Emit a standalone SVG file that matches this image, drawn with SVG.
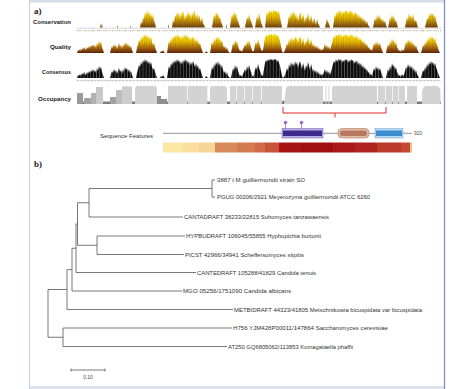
<svg xmlns="http://www.w3.org/2000/svg" width="474" height="389" viewBox="0 0 474 389">
<style>
.lbl{font-family:"Liberation Sans",Arial,sans-serif;font-size:5.5px;font-weight:bold;fill:#222;text-anchor:end}
.leaf{font-family:"Liberation Sans",Arial,sans-serif;font-size:6.1px;fill:#333}
.pan{font-family:"Liberation Serif","Times New Roman",serif;font-size:9px;font-weight:bold;fill:#222}
.br{stroke:#555;stroke-width:0.8;fill:none}
.occ{fill:#d3d3d3}
.occd{fill:#9a9a9a}
</style>
<defs>
<linearGradient id="gc" gradientUnits="userSpaceOnUse" x1="0" y1="9.5" x2="0" y2="27.5">
<stop offset="0" stop-color="#ffe600"/><stop offset="0.45" stop-color="#e0b400"/><stop offset="0.8" stop-color="#9a6a10"/><stop offset="1" stop-color="#6a3a08"/>
</linearGradient>
<linearGradient id="gq" gradientUnits="userSpaceOnUse" x1="0" y1="34" x2="0" y2="53">
<stop offset="0" stop-color="#ffe800"/><stop offset="0.4" stop-color="#e8c000"/><stop offset="0.75" stop-color="#a06010"/><stop offset="1" stop-color="#5a2008"/>
</linearGradient>
<pattern id="stripes" patternUnits="userSpaceOnUse" width="2.4" height="10">
<rect x="0" y="0" width="0.6" height="10" fill="#7a4a00" fill-opacity="0.35"/>
</pattern>
<pattern id="wstripes" patternUnits="userSpaceOnUse" width="3.1" height="10">
<rect x="0" y="0" width="0.5" height="10" fill="#ffffff" fill-opacity="0.45"/>
</pattern>
<path id="qpath" d="M77,53 L78,50 L79,51 L80,49 L81,51 L82,48 L83,50 L84,47 L85,49 L86,50 L87,47 L88,49 L89,46 L90,48 L91,45 L92,47 L93,44 L94,47 L95,45 L96,48 L97,43 L98,46 L99,41 L100,44 L101,42 L102,47 L103,50 L104,53 H110 L111,49 L112,46 L113,48 L114,44 L115,47 L116,45 L117,49 L118,46 L119,43 L120,47 L121,45 L122,49 L123,44 L124,47 L125,42 L126,45 L127,43 L128,47 L129,44 L130,48 L131,46 L132,50 L133,53 H136 L137,48 L138,44 L139,40 L140,42 L141,37 L142,40 L143,35 L144,38 L145,34 L146,37 L147,35 L148,39 L149,36 L150,40 L151,37 L152,42 L153,45 L154,43 L155,47 L156,50 L157,53 H160 L161,51 L162,52 L163,50 L164,52 L165,53 H167 L168,46 L169,41 L170,44 L171,38 L172,41 L173,36 L174,39 L175,35 L176,38 L177,34 L178,37 L179,35 L180,39 L181,36 L182,40 L183,35 L184,38 L185,34 L186,37 L187,35 L188,39 L189,36 L190,41 L191,37 L192,40 L193,36 L194,39 L195,42 L196,38 L197,43 L198,40 L199,45 L200,43 L201,47 L202,50 L203,53 H205 L206,51 L207,52 L208,53 H210 L211,47 L212,42 L213,45 L214,39 L215,42 L216,37 L217,40 L218,36 L219,41 L220,38 L221,43 L222,40 L223,45 L224,48 L225,46 L226,50 L227,47 L228,51 L229,52 L230,53 L231,53 L232,48 L233,43 L234,46 L235,40 L236,44 L237,41 L238,46 L239,49 L240,51 L241,50 L242,52 L243,49 L244,47 L245,44 L246,47 L247,41 L248,45 L249,40 L250,44 L251,47 L252,50 L253,52 L254,50 L255,45 L256,42 L257,45 L258,39 L259,43 L260,46 L261,49 L262,51 L263,50 L264,44 L265,38 L266,35 L267,37 L268,34 L269,36 L270,34 L271,35 L272,34 L273,36 L274,34 L275,35 L276,34 L277,37 L278,35 L279,38 L280,41 L281,46 L282,51 L283,53 L284,52 L285,50 L286,47 L287,43 L288,46 L289,39 L290,43 L291,37 L292,41 L293,38 L294,42 L295,36 L296,40 L297,37 L298,43 L299,39 L300,36 L301,40 L302,44 L303,38 L304,42 L305,46 L306,40 L307,43 L308,37 L309,41 L310,45 L311,39 L312,43 L313,47 L314,44 L315,48 L316,45 L317,49 L318,46 L319,50 L320,48 L321,51 L322,49 L323,50 L324,47 L325,44 L326,48 L327,45 L328,49 L329,46 L330,50 L331,47 L332,43 L333,39 L334,36 L335,38 L336,34 L337,37 L338,35 L339,34 L340,36 L341,34 L342,38 L343,35 L344,37 L345,34 L346,36 L347,34 L348,38 L349,35 L350,37 L351,34 L352,36 L353,35 L354,39 L355,36 L356,38 L357,35 L358,40 L359,37 L360,41 L361,38 L362,43 L363,40 L364,44 L365,42 L366,46 L367,44 L368,48 L369,47 L370,50 L371,49 L372,51 L373,47 L374,43 L375,46 L376,41 L377,45 L378,42 L379,46 L380,43 L381,47 L382,50 L383,53 H386 L387,48 L388,44 L389,47 L390,41 L391,45 L392,38 L393,42 L394,40 L395,45 L396,42 L397,47 L398,49 L399,51 L400,50 L401,52 L402,49 L403,51 L404,50 L405,46 L406,42 L407,44 L408,39 L409,43 L410,40 L411,44 L412,41 L413,46 L414,43 L415,48 L416,45 L417,49 L418,51 L419,53 H421 L422,49 L423,45 L424,47 L425,42 L426,45 L427,39 L428,42 L429,37 L430,40 L431,36 L432,39 L433,37 L434,41 L435,38 L436,42 L437,45 L438,48 L439,51 L440,53 H441 Z"/>
<path id="cpath" d="M77,27.5 H100 L100.5,23 L101,27.5 L102,23.5 L102.5,27.5 H117 L117.5,25 L118,27.5 H130 L130.5,25.5 L131,27.5 H140 L141,22 L142,24 L143,17 L144,20 L145,12 L146,16 L147,10 L148,15 L149,11 L150,17 L151,13 L152,19 L153,14 L154,21 L155,23 L156,27.5 H168 L168.5,24 L169,27.5 H172 L173,20 L174,23 L175,15 L176,18 L177,11 L178,16 L179,13 L180,19 L181,12 L182,17 L183,10 L184,15 L185,20 L186,14 L187,18 L188,11 L189,16 L190,13 L191,19 L192,12 L193,17 L194,10 L195,14 L196,18 L197,13 L198,20 L199,15 L200,19 L201,22 L202,17 L203,23 L204,25 L205,27.5 H212 L213,21 L214,15 L215,18 L216,12 L217,16 L218,13 L219,19 L220,17 L221,22 L222,24 L223,27.5 H226 L226.5,24 L227,27.5 H230 L231,20 L232,14 L233,18 L234,11 L235,16 L236,13 L237,19 L238,21 L239,24 L240,27.5 H245 L246,22 L247,17 L248,20 L249,14 L250,19 L251,21 L252,24 L253,27.5 H255 L256,21 L257,16 L258,20 L259,13 L260,18 L261,22 L262,25 L263,27.5 H265 L266,18 L267,12 L268,15 L269,10 L270,13 L271,10 L272,14 L273,10 L274,12 L275,10 L276,13 L277,10 L278,14 L279,11 L280,17 L281,22 L282,27.5 H287 L288,22 L289,16 L290,19 L291,12 L292,17 L293,11 L294,15 L295,13 L296,19 L297,14 L298,21 L299,17 L300,12 L301,16 L302,20 L303,14 L304,18 L305,23 L306,16 L307,20 L308,13 L309,18 L310,22 L311,15 L312,19 L313,24 L314,18 L315,21 L316,25 L317,19 L318,23 L319,25 L320,27.5 H325 L326,23 L327,19 L328,22 L329,24 L330,27.5 H333 L334,20 L335,14 L336,17 L337,11 L338,15 L339,10 L340,13 L341,10 L342,16 L343,11 L344,14 L345,10 L346,12 L347,10 L348,15 L349,11 L350,13 L351,10 L352,14 L353,12 L354,17 L355,11 L356,15 L357,13 L358,18 L359,14 L360,19 L361,16 L362,21 L363,17 L364,22 L365,19 L366,24 L367,21 L368,25 L369,26 L370,27.5 H373 L374,22 L375,18 L376,21 L377,15 L378,19 L379,14 L380,20 L381,17 L382,22 L383,19 L384,23 L385,21 L386,25 L387,27.5 L388,27.5 L389,23 L390,17 L391,21 L392,14 L393,19 L394,16 L395,22 L396,20 L397,24 L398,27.5 H405 L406,22 L407,17 L408,21 L409,13 L410,18 L411,15 L412,20 L413,14 L414,19 L415,22 L416,20 L417,24 L418,27.5 H425 L426,23 L427,18 L428,20 L429,14 L430,17 L431,12 L432,16 L433,13 L434,18 L435,15 L436,20 L437,24 L438,27.5 H441 Z"/>
</defs>

<!-- frame -->
<rect x="0" y="0" width="474" height="389" fill="#ffffff"/>
<rect x="29" y="0" width="416" height="2.5" fill="#d9dde8"/>
<rect x="29" y="386" width="416" height="3" fill="#dfe2ec"/>
<line x1="29.5" y1="0" x2="29.5" y2="389" stroke="#c5cbe0" stroke-width="1"/>
<line x1="444.5" y1="0" x2="444.5" y2="389" stroke="#7f8fc8" stroke-width="1.3"/>

<g id="panel-a">
<text class="pan" x="34" y="14">a)</text>
<text class="lbl" x="71" y="23.5" textLength="38" lengthAdjust="spacingAndGlyphs">Conservation</text>
<text class="lbl" x="71" y="48.5" textLength="21" lengthAdjust="spacingAndGlyphs">Quality</text>
<text class="lbl" x="71" y="73.5" textLength="29" lengthAdjust="spacingAndGlyphs">Consensus</text>
<text class="lbl" x="71" y="100.5" textLength="33" lengthAdjust="spacingAndGlyphs">Occupancy</text>

<g id="conservation">
<use href="#cpath" fill="url(#gc)"/>
<use href="#cpath" fill="url(#stripes)"/>
<line x1="77" y1="28.2" x2="441" y2="28.2" stroke="#b8b8b8" stroke-width="0.6"/>
<line x1="77" y1="30.6" x2="441" y2="30.6" stroke="#c9bfae" stroke-width="1.4" stroke-dasharray="1.2 0.6 2 0.8 0.8 1.2"/>
</g>

<g id="quality">
<use href="#qpath" fill="url(#gq)"/>
<use href="#qpath" fill="url(#stripes)"/>
</g>

<g id="consensus">
<use href="#qpath" transform="translate(0,25)" fill="#0e0e0e"/>
<use href="#qpath" transform="translate(0,25)" fill="url(#wstripes)"/>
<line x1="77" y1="80.6" x2="441" y2="80.6" stroke="#b5b5b5" stroke-width="1.2" stroke-dasharray="0.8 0.6"/>
</g>

<g id="occupancy">
<rect x="77" y="101.5" width="364" height="2.5" fill="#7c7c7c"/>
<rect class="occd" x="77" y="93" width="6" height="11"/>
<rect fill="#a5a5a5" x="84" y="98" width="7" height="6"/>
<rect fill="#b2b2b2" x="91" y="93" width="5" height="11"/>
<rect fill="#c9c9c9" x="96" y="87" width="7" height="17"/>
<rect fill="#a0a0a0" x="110" y="97" width="6" height="7"/>
<rect fill="#bcbcbc" x="116" y="90" width="6" height="14"/>
<rect fill="#cdcdcd" x="122" y="86.5" width="10" height="17.5"/>
<path class="occ" d="M135,104 V89 Q135,86 138,86 H154 Q157,86 157,89 V104 Z"/>
<path fill="#8e8e8e" d="M157,104 V96 H161 V99 H167 V104 Z"/>
<rect class="occ" x="168" y="86" width="19.3" height="18"/>
<rect class="occ" x="188" y="86" width="19.3" height="18"/>
<path class="occ" d="M210,104 V89 Q210,86 213,86 H224 Q227,86 227,89 V104 Z"/>
<rect class="occ" x="230" y="86" width="6.3" height="18"/>
<rect class="occ" x="237" y="86" width="7.3" height="18"/>
<rect class="occ" x="245" y="86" width="7.3" height="18"/>
<rect class="occ" x="253" y="86" width="8.3" height="18"/>
<rect class="occ" x="262" y="86" width="20" height="18"/>
<path fill="#777" d="M282,104 V102 L284,100 L285,104 Z"/>
<path class="occ" d="M284,104 L286,88 Q287,86 289,86 H323 V104 Z"/>
<rect class="occ" x="325.5" y="86" width="1" height="18"/>
<rect class="occ" x="328.5" y="86" width="1" height="18"/>
<path class="occ" d="M332,104 V88 Q332,86 334,86 H377 V104 Z"/>
<rect class="occ" x="378" y="86" width="7.3" height="18"/>
<rect class="occ" x="386" y="86" width="6.3" height="18"/>
<rect class="occ" x="393" y="86" width="5.3" height="18"/>
<rect class="occ" x="399" y="86" width="6" height="18"/>
<rect class="occ" x="407" y="86" width="10" height="18"/>
<path class="occ" d="M422,104 V91 Q423,86 427,86 H436 Q440,86 440.5,91 V104 Z"/>
</g>

<g id="region-bracket">
<path d="M283,107 V113 H386 V107 M335,113 V117.5" fill="none" stroke="#e02828" stroke-width="1"/>
</g>

<g id="sequence-features">
<text x="100" y="137.5" font-family="'Liberation Sans',Arial,sans-serif" font-size="6" fill="#333" textLength="53" lengthAdjust="spacingAndGlyphs">Sequence Features</text>
<line x1="163" y1="133.3" x2="412" y2="133.3" stroke="#a9a9b6" stroke-width="1.3"/>
<text x="414" y="135.2" font-family="'Liberation Sans',Arial,sans-serif" font-size="5" fill="#555">920</text>
<g id="lollipops" stroke="#9050b0" stroke-width="0.7">
<line x1="285.5" y1="123" x2="285.5" y2="129"/>
<line x1="301.5" y1="123" x2="301.5" y2="129"/>
<circle cx="285.5" cy="122.5" r="1.3" fill="#c050d0"/>
<circle cx="301.5" cy="122.5" r="1.3" fill="#c050d0"/>
</g>
<rect x="282" y="128.5" width="41" height="9.5" fill="#b8aee2" stroke="#6a58b0" stroke-width="0.5"/>
<rect x="283" y="130.5" width="39" height="5.5" fill="#3c2a8c"/>
<rect x="338" y="128.5" width="31" height="9.5" rx="4" fill="#e2bca8" stroke="#a06048" stroke-width="0.5"/>
<rect x="340" y="130.5" width="27" height="5.5" rx="2.5" fill="#b87860"/>
<rect x="375" y="128.5" width="28" height="9.5" fill="#b9d9f2" stroke="#6aa0d0" stroke-width="0.5"/>
<rect x="376" y="130.5" width="26" height="5.5" fill="#3d8ccc"/>
<g id="heatbar">
<rect x="163" y="142.5" width="20" height="10" fill="#fbe6a4"/>
<rect x="183" y="142.5" width="16" height="10" fill="#fae0a0"/>
<rect x="199" y="142.5" width="16" height="10" fill="#f6d698"/>
<rect x="215" y="142.5" width="22" height="10" fill="#d98a5c"/>
<rect x="237" y="142.5" width="18" height="10" fill="#d47a52"/>
<rect x="255" y="142.5" width="10" height="10" fill="#d06a48"/>
<rect x="265" y="142.5" width="14" height="10" fill="#c8523a"/>
<rect x="279" y="142.5" width="22" height="10" fill="#a81414"/>
<rect x="301" y="142.5" width="32" height="10" fill="#a30e0e"/>
<rect x="333" y="142.5" width="22" height="10" fill="#aa1818"/>
<rect x="355" y="142.5" width="22" height="10" fill="#b02420"/>
<rect x="377" y="142.5" width="24" height="10" fill="#bb3a2c"/>
<rect x="401" y="142.5" width="9" height="10" fill="#c24a34"/>
<rect x="410" y="142.5" width="2" height="10" fill="#efc08a"/>
</g>
</g>
</g>

<g id="panel-b">
<text class="pan" x="34" y="167">b)</text>
<g id="connectors" class="br">
<path d="M212,180 V197 M212,180 H215 M212,197 H215"/>
<path d="M89,188.5 V217 M89,188.5 H212 M89,217 H183"/>
<path d="M97,236 V254.5 M97,236 H185 M97,254.5 H184"/>
<path d="M77.5,202.75 V245.25 M77.5,202.75 H89 M77.5,245.25 H97"/>
<path d="M76,224 V272.5 M76,224 H77.5 M76,272.5 H196"/>
<path d="M72,248.25 V291 M72,248.25 H76 M72,291 H182"/>
<path d="M67,269.6 V309.5 M67,269.6 H72 M67,309.5 H233"/>
<path d="M63,328 V346.5 M63,328 H232 M63,346.5 H227"/>
<path d="M48,289.5 V337.25 M48,289.5 H67 M48,337.25 H63"/>
</g>
<g id="leaf-3887"><text class="leaf" x="217" y="182.2" textLength="88" lengthAdjust="spacingAndGlyphs">3887 t M guilliermondii strain SO</text></g>
<g id="leaf-PGUG"><text class="leaf" x="217" y="199.2" textLength="153" lengthAdjust="spacingAndGlyphs">PGUG 00206/2921 Meyerozyma guilliermondii ATCC 6260</text></g>
<g id="leaf-CANTADRAFT"><text class="leaf" x="184" y="219.2" textLength="145" lengthAdjust="spacingAndGlyphs">CANTADRAFT 38233/22815 Suhomyces tanzawaensis</text></g>
<g id="leaf-HYPBUDRAFT"><text class="leaf" x="186" y="238.2" textLength="135" lengthAdjust="spacingAndGlyphs">HYPBUDRAFT 106045/55855 Hyphopichia burtonii</text></g>
<g id="leaf-PICST"><text class="leaf" x="185" y="256.7" textLength="119" lengthAdjust="spacingAndGlyphs">PICST 42966/34941 Scheffersomyces stipitis</text></g>
<g id="leaf-CANTEDRAFT"><text class="leaf" x="197" y="274.7" textLength="119" lengthAdjust="spacingAndGlyphs">CANTEDRAFT 105288/41829 Candida tenuis</text></g>
<g id="leaf-MGO"><text class="leaf" x="183" y="293.2" textLength="108" lengthAdjust="spacingAndGlyphs">MGO 05256/1751090 Candida albicans</text></g>
<g id="leaf-METBIDRAFT"><text class="leaf" x="234" y="311.7" textLength="188" lengthAdjust="spacingAndGlyphs">METBIDRAFT 44323/41805 Metschnikowia bicuspidata var bicuspidata</text></g>
<g id="leaf-H756"><text class="leaf" x="233" y="330.2" textLength="155" lengthAdjust="spacingAndGlyphs">H756 YJM428P00011/147864 Saccharomyces cerevisiae</text></g>
<g id="leaf-AT250"><text class="leaf" x="228" y="348.7" textLength="125" lengthAdjust="spacingAndGlyphs">AT250 GQ6805062/113853 Komagataella phaffii</text></g>
<g id="scale-bar">
<path d="M71,370 H105 M71,368.5 V371.5 M105,368.5 V371.5" stroke="#555" stroke-width="0.8" fill="none"/>
<text x="88" y="379" text-anchor="middle" font-family="'Liberation Sans',Arial,sans-serif" font-size="5" fill="#444">0.10</text>
</g>
</g>
</svg>
